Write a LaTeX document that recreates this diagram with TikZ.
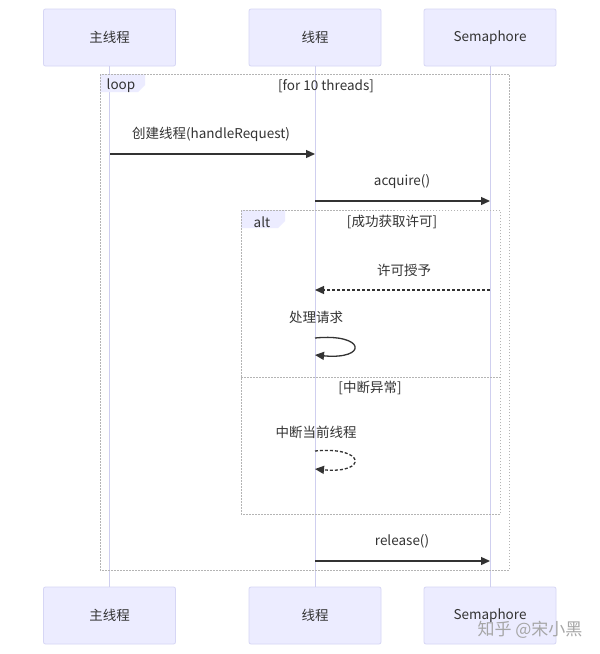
\documentclass[tikz,border=0pt]{standalone}
\usepackage{fontspec}
\setmainfont{Noto Sans CJK SC}
\usetikzlibrary{arrows.meta}
\definecolor{boxfill}{HTML}{ECECFF}
\definecolor{boxline}{HTML}{D6D6F5}
\definecolor{lifeline}{HTML}{CFCFEF}
\definecolor{txt}{HTML}{333333}
\definecolor{frame}{HTML}{B4B4B4}
\tikzset{
  actor/.style={draw=boxline, fill=boxfill, rounded corners=2pt, minimum width=132pt, minimum height=57pt, inner sep=0pt, text=txt, font=\fontsize{13.5}{15}\selectfont, line width=0.8pt},
  life/.style={draw=lifeline, line width=1pt},
  frm/.style={draw=frame, line width=0.9pt, dash pattern=on 1.5pt off 1.5pt},
  msgtext/.style={text=txt, font=\fontsize{13.5}{15}\selectfont, inner sep=0pt},
  msg/.style={draw=txt, line width=1.3pt, -{Triangle[length=9pt,width=8pt]}},
  ret/.style={msg, dash pattern=on 3pt off 2pt},
  tab/.style={fill=boxfill, draw=none},
}
\begin{document}
\begin{tikzpicture}[x=1pt,y=-1pt]
\useasboundingbox (0,0) rectangle (600,654);
\fill[white] (0,0) rectangle (600,654);
% actors
\node[actor] (a) at (109.5,37.5) {主线程};
\node[actor] (b) at (315,37.5) {线程};
\node[actor] (c) at (490,37.5) {Semaphore};
\node[actor] (a2) at (109.5,615.5) {主线程};
\node[actor] (b2) at (315,615.5) {线程};
\node[actor] (c2) at (490,615.5) {Semaphore};
% lifelines
\draw[life] (a.south) -- (a2.north);
\draw[life] (b.south) -- (b2.north);
\draw[life] (c.south) -- (c2.north);
% loop frame
\fill[tab] (100,74) -- (145,74) -- (145,85) -- (138,92) -- (100,92) -- cycle;
\draw[frm] (100,74) rectangle (509,570);
\node[msgtext] (looplbl) at (121,86) {loop};
\node[msgtext] (loopcond) at (326,86) {[for 10 threads]};
% alt frame
\fill[tab] (241,210) -- (285,210) -- (285,221) -- (278,228) -- (241,228) -- cycle;
\draw[frm] (241,210) rectangle (500,514);
\draw[frm] (241,377) -- (500,377);
\node[msgtext] (altlbl) at (262,222) {alt};
\node[msgtext] (altcond1) at (392,222) {[成功获取许可]};
\node[msgtext] (altcond2) at (370,388) {[中断异常]};
% coordinates on lifelines
\coordinate (a1) at (110,154);
\coordinate (b1) at (315,154);
\coordinate (b3) at (315,201);
\coordinate (c3) at (490,201);
\coordinate (c4) at (490,290);
\coordinate (b4) at (315,290);
\coordinate (b5s) at (315,338);
\coordinate (b5e) at (315,355);
\coordinate (b6s) at (315,451);
\coordinate (b6e) at (315,469);
\coordinate (b7) at (315,561);
\coordinate (c7) at (490,561);
% messages
\node[msgtext] (t1) at (211,134) {创建线程(handleRequest)};
\draw[msg] (a1) -- (b1);
\node[msgtext] (t2) at (402,182) {acquire()};
\draw[msg] (b3) -- (c3);
\node[msgtext] (t3) at (404,270) {许可授予};
\draw[ret] (c4) -- (b4);
\node[msgtext] (t4) at (316,317) {处理请求};
\draw[msg] (b5s) .. controls (366,333) and (368,360) .. (b5e);
\node[msgtext] (t5) at (316,432) {中断当前线程};
\draw[ret] (b6s) .. controls (366,446) and (368,474) .. (b6e);
\node[msgtext] (t6) at (402,541) {release()};
\draw[msg] (b7) -- (c7);
% watermark
\node[text=black!35, font=\fontsize{17}{19}\selectfont, inner sep=0pt] (wm) at (530,630) {知乎 @宋小黑};
\end{tikzpicture}
\end{document}
